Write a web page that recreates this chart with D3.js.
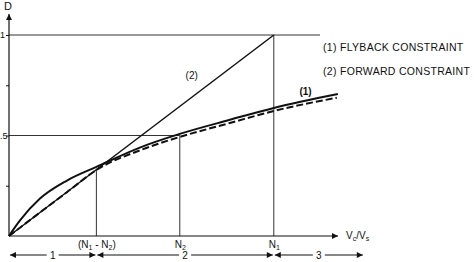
<!DOCTYPE html>
<html>
<head>
<meta charset="utf-8">
<script src="https://cdn.jsdelivr.net/npm/d3@7"></script>
<style>
  body { margin: 0; background: #fff; }
  svg { font-family: "Liberation Sans", Arial, sans-serif; }
</style>
</head>
<body>
<svg width="474" height="262"></svg>
<script>
// x in units of N1 (Vc/Vs normalised), y = duty cycle D
const xMarks = [0.33, 0.645, 1.0];          // (N1 - N2), N2, N1
const xMarkNames = [["(N", "1", " - N", "2", ")"], ["N", "2"], ["N", "1"]];
const yTicks = [0.25, 0.5, 0.75, 1];
const yTickLabels = ["", ".5", "", "1"];

// flyback constraint (solid) and its companion (dashed)
const flybackX = [0, 0.04, 0.117, 0.219, 0.332, 0.494, 0.645, 0.834, 1.0, 1.242];
const flybackY = [0, 0.075, 0.186, 0.276, 0.345, 0.44, 0.508, 0.578, 0.637, 0.706];
const dashedX  = [0, 0.117, 0.219, 0.332, 0.494, 0.645, 0.834, 1.0, 1.238];
const dashedY  = [0, 0.117, 0.218, 0.33, 0.426, 0.493, 0.562, 0.622, 0.688];
// forward constraint: straight line D = x
const forwardX = [0, 1.0];
const forwardY = [0, 1.0];

const regions = [["1", 0, 0.33], ["2", 0.33, 1.0], ["3", 1.0, 1.34]];
const legendItems = ["(1) FLYBACK CONSTRAINT", "(2) FORWARD CONSTRAINT"];

const svg = d3.select("svg");
const x = d3.scaleLinear().domain([0, 1.25]).range([9, 340]);
const y = d3.scaleLinear().domain([0, 1]).range([236, 35]);
const ink = "#111";

// arrow markers
const defs = svg.append("defs");
defs.append("marker")
    .attr("id", "arr")
    .attr("viewBox", "0 0 10 10")
    .attr("refX", 10).attr("refY", 5)
    .attr("markerWidth", 9).attr("markerHeight", 6)
    .attr("markerUnits", "userSpaceOnUse")
    .attr("orient", "auto-start-reverse")
    .append("path").attr("d", "M0,0L10,5L0,10z").attr("fill", ink);

// guide lines
svg.append("line")   // D = 1
    .attr("x1", x(0)).attr("x2", 320)
    .attr("y1", y(1)).attr("y2", y(1))
    .attr("stroke", "#333").attr("stroke-width", 1);
svg.append("line")   // D = .5
    .attr("x1", x(0)).attr("x2", x(xMarks[1]))
    .attr("y1", y(0.5)).attr("y2", y(0.5))
    .attr("stroke", "#333").attr("stroke-width", 1);

const markTops = [y(0.333), y(0.5), y(1)];
xMarks.forEach((m, i) => {
    svg.append("line")
        .attr("x1", x(m)).attr("x2", x(m))
        .attr("y1", markTops[i]).attr("y2", y(0))
        .attr("stroke", "#333").attr("stroke-width", 1);
});

// axes
const yAxis = d3.axisLeft(y).tickValues(yTicks).tickSize(3)
    .tickFormat((d, i) => yTickLabels[i]);
const gy = svg.append("g").attr("transform", `translate(${x(0)},0)`).call(yAxis);
gy.select(".domain").remove();
gy.selectAll("line").attr("stroke", ink);
gy.selectAll("text").attr("font-size", 9).attr("fill", ink)
    .attr("text-anchor", "start").attr("x", -9);

svg.append("line")
    .attr("x1", x(0)).attr("x2", x(0))
    .attr("y1", y(0)).attr("y2", 14)
    .attr("stroke", ink).attr("stroke-width", 1.2)
    .attr("marker-end", "url(#arr)");
svg.append("text").attr("x", 8).attr("y", 10)
    .attr("text-anchor", "middle").attr("font-size", 11).attr("fill", ink).text("D");

const xAxis = d3.axisBottom(x).tickValues(xMarks).tickSize(0).tickFormat("");
const gx = svg.append("g").attr("transform", `translate(0,${y(0)})`).call(xAxis);
gx.select(".domain").remove();
gx.selectAll(".tick").each(function (d, i) {
    const t = d3.select(this).append("text")
        .attr("y", 12).attr("text-anchor", "middle")
        .attr("font-size", 10).attr("fill", ink);
    xMarkNames[i].forEach((s, k) => {
        const sp = t.append("tspan").text(s);
        if (k % 2 === 1) sp.attr("font-size", 7).attr("dy", 2);
        else if (k > 0) sp.attr("dy", -2);
    });
});

svg.append("line")
    .attr("x1", x(0)).attr("x2", 338)
    .attr("y1", y(0)).attr("y2", y(0))
    .attr("stroke", ink).attr("stroke-width", 1.2)
    .attr("marker-end", "url(#arr)");
const vlab = svg.append("text").attr("x", 346).attr("y", y(0) + 3)
    .attr("font-size", 10).attr("fill", ink);
vlab.append("tspan").text("V");
vlab.append("tspan").attr("font-size", 7).attr("dy", 2).text("c");
vlab.append("tspan").attr("dy", -2).text("/V");
vlab.append("tspan").attr("font-size", 7).attr("dy", 2).text("s");

// curves
const line = d3.line().x(d => x(d[0])).y(d => y(d[1])).curve(d3.curveMonotoneX);
svg.append("path").datum(d3.zip(forwardX, forwardY))
    .attr("d", line).attr("fill", "none").attr("stroke", ink).attr("stroke-width", 1.5);
svg.append("path").datum(d3.zip(dashedX, dashedY))
    .attr("d", line).attr("fill", "none").attr("stroke", ink)
    .attr("stroke-width", 2).attr("stroke-dasharray", "7,3");
svg.append("path").datum(d3.zip(flybackX, flybackY))
    .attr("d", line).attr("fill", "none").attr("stroke", ink).attr("stroke-width", 2);

svg.append("text").attr("x", x(0.69)).attr("y", y(0.78))
    .attr("text-anchor", "middle").attr("font-size", 10).attr("fill", ink).text("(2)");
svg.append("text").attr("x", x(1.12)).attr("y", y(0.7))
    .attr("text-anchor", "middle").attr("font-size", 10).attr("font-weight", "bold")
    .attr("fill", ink).text("(1)");

// region arrows under the axis
const ry = 255;
regions.forEach(([lab, a, b]) => {
    const x0 = x(a), x1 = x(b), xm = (x0 + x1) / 2;
    [[xm - 6, x0 + 1], [xm + 6, x1 - 1]].forEach(([s, e]) => {
        svg.append("line")
            .attr("x1", s).attr("x2", e).attr("y1", ry).attr("y2", ry)
            .attr("stroke", ink).attr("stroke-width", 1)
            .attr("marker-end", "url(#arr)");
    });
    svg.append("text").attr("x", xm).attr("y", ry + 3.5)
        .attr("text-anchor", "middle").attr("font-size", 10).attr("fill", ink).text(lab);
});

// legend
svg.selectAll(".legend").data(legendItems).enter().append("text")
    .attr("class", "legend")
    .attr("x", 323).attr("y", (d, i) => 51 + i * 24)
    .attr("font-size", 10.5).attr("letter-spacing", 0.3)
    .attr("fill", ink).text(d => d);
</script>
</body>
</html>
